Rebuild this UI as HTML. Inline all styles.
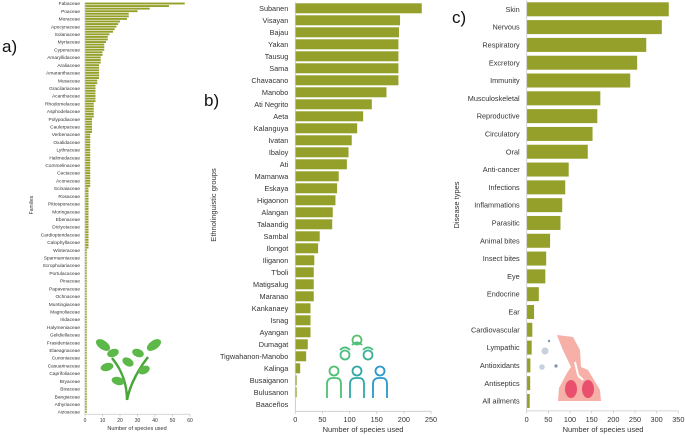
<!DOCTYPE html>
<html><head><meta charset="utf-8"><style>
html,body{margin:0;padding:0;background:#fff;}
svg{display:block;font-family:"Liberation Sans",sans-serif;}
</style></head><body>
<svg id="chart" width="685" height="435" viewBox="0 0 685 435" xmlns="http://www.w3.org/2000/svg">
  <text x="2" y="52" font-size="17" fill="#111">a)</text>
  <text x="204" y="106" font-size="17" fill="#111">b)</text>
  <text x="452" y="23" font-size="17" fill="#111">c)</text>
  <text transform="translate(33,205) rotate(-90)" text-anchor="middle" font-size="5" fill="#333">Families</text>
  <text x="137" y="430" text-anchor="middle" font-size="5.5" fill="#333">Number of species used</text>
  <text transform="translate(216,205) rotate(-90)" text-anchor="middle" font-size="7.5" fill="#333">Ethnolinguistic groups</text>
  <text x="363" y="432" text-anchor="middle" font-size="7.5" fill="#333">Number of species used</text>
  <text transform="translate(459,205) rotate(-90)" text-anchor="middle" font-size="7.5" fill="#333">Disease types</text>
  <text x="603" y="432" text-anchor="middle" font-size="7.5" fill="#333">Number of species used</text>
  <g id="ga"></g><g id="gb"></g><g id="gc"></g>

  <g fill="#5cb848" stroke="none">
    <path d="M127,400 C127,385 122,370 112,358 M127,400 C130,385 138,370 148,357" stroke="#4aa63a" stroke-width="2.5" fill="none"/>
    <ellipse cx="103" cy="345" rx="8" ry="4.5" transform="rotate(35 103 345)"/>
    <ellipse cx="154" cy="345" rx="8" ry="4.5" transform="rotate(-35 154 345)"/>
    <ellipse cx="113" cy="353" rx="6" ry="4" transform="rotate(-20 113 353)"/>
    <ellipse cx="138" cy="353" rx="6" ry="4" transform="rotate(20 138 353)"/>
    <ellipse cx="107" cy="367" rx="6.5" ry="4" transform="rotate(-15 107 367)"/>
    <ellipse cx="128" cy="362" rx="6" ry="4" transform="rotate(30 128 362)"/>
    <ellipse cx="144" cy="370" rx="6" ry="4" transform="rotate(-25 144 370)"/>
    <ellipse cx="118" cy="381" rx="6.5" ry="4" transform="rotate(15 118 381)"/>
  </g>

  <g fill="none" stroke-width="1.8">
    <circle cx="357" cy="340" r="4.5" stroke="#5cc070"/>
    <circle cx="345" cy="355" r="4.5" stroke="#4cbf80"/>
    <circle cx="368" cy="355" r="4.5" stroke="#3ab09a"/>
    <circle cx="334" cy="371" r="4.5" stroke="#4cc070"/>
    <circle cx="357" cy="371" r="4.5" stroke="#30a8a8"/>
    <circle cx="380" cy="371" r="4.5" stroke="#2a98c8"/>
    <path d="M327,398 V384 Q327,378 333,378 H336 Q341,378 341,384 V398" stroke="#4cc070"/>
    <path d="M350,398 V384 Q350,378 356,378 H359 Q364,378 364,384 V398" stroke="#30a8a8"/>
    <path d="M373,398 V384 Q373,378 379,378 H382 Q387,378 387,384 V398" stroke="#2a98c8"/>
    <path d="M340,350 Q345,345 350,350 M363,350 Q368,345 373,350 M352,345 Q357,340 362,345" stroke="#4cbf80"/>
  </g>

  <g>
    <path d="M557,335 L573,337 L580,350 L581,367 L588,370 L600,390 L601,401 L558,401 L559,388 L567,373 L571,367 L562,348 Z" fill="#f6b0a8"/>
    <path d="M575,362 L578,375 L580,378 M578,375 L583,380" stroke="#fff" stroke-width="2" fill="none"/>
    <ellipse cx="571" cy="389" rx="6" ry="9" fill="#e8506e"/>
    <ellipse cx="588" cy="389" rx="6" ry="9" fill="#e8506e"/>
    <circle cx="545" cy="351" r="3.5" fill="#c8d0dc"/>
    <circle cx="542" cy="367" r="2.8" fill="#c8d0dc"/>
    <circle cx="556" cy="366" r="1.6" fill="#8090b0"/>
    <circle cx="549" cy="341" r="1.2" fill="#8090b0"/>
  </g>
</svg>
<script>
var NS='http://www.w3.org/2000/svg';
// Panel a data
var famLabels=['Fabaceae','Poaceae','Moraceae','Apocynaceae','Solanaceae','Myrtaceae','Cyperaceae','Amaryllidaceae','Araliaceae','Amaranthaceae','Musaceae','Gracilariaceae','Acanthaceae','Rhodomelaceae','Asphodelaceae','Polypodiaceae','Caulerpaceae','Verbenaceae','Oxalidaceae','Lythraceae','Halimedaceae','Commelinaceae','Cactaceae','Aconaceae','Scinaiaceae','Rosaceae','Pittosporaceae','Moringaceae','Ebenaceae','Dictyotaceae','Cardiopteridaceae','Calophyllaceae','Winteraceae','Sparmanniaceae','Scrophulariaceae','Portulacaceae','Pinaceae','Papaveraceae','Ochnaceae','Muntingiaceae','Magnoliaceae','Iridaceae','Halymeniaceae','Gelidiellaceae','Frasidentaceae','Elaeagnaceae','Cunoniaceae','Casuarinaceae','Caprifoliaceae','Bryaceae','Bixaceae','Bangiaceae','Athyriaceae','Aizoaceae'];
var famValues=[57,48,37,30,25,25,24,20,19,18,17,16,14,13,13,12,11,11,11,10,10,9,
9,9,8,8,8,8,8,8,7,7,6,6,6,6,6,6,6,5,5,5,5,5,5,4,4,4,4,4,4,
3,3,3,3,3,3,3,3,3,3,3,3,3,3,3,3,3,3,3,3,3,
2,2,2,2,2,2,2,2,2,2,2,2,2,2,2,2,2,2,2,2,2,2,2,2,
1,1,1,1,1,1,1,1,1,1,1,1,1,1,1,1,1,1,1,1,1,1,1,1,1,1,1,1,1,1,1,1,1,1,1,1,1,1,1,1,1,1,1,1,1,1,1,1,1,1,1,1,1,1,1,1,1,1,1,1,1,1,1,1];
var famTicks=[0,10,20,30,40,50,60];
// Panel b data
var grpLabels=['Subanen','Visayan','Bajau','Yakan','Tausug','Sama','Chavacano','Manobo','Ati Negrito','Aeta','Kalanguya','Ivatan','Ibaloy','Ati','Mamanwa','Eskaya','Higaonon','Alangan','Talaandig','Sambal','Ilongot','Iliganon',"T'boli",'Matigsalug','Maranao','Kankanaey','Isnag','Ayangan','Dumagat','Tigwahanon-Manobo','Kalinga','Busaiganon','Bulusanon','Baaceños'];
var grpValues=[233,193,191,190,190,190,190,168,141,125,114,104,98,95,80,77,74,69,68,45,42,35,34,34,34,28,28,28,23,20,9,2.5,2.5,0.6];
var grpTicks=[0,50,100,150,200,250];
// Panel c data
var disLabels=['Skin','Nervous','Respiratory','Excretory','Immunity','Musculoskeletal','Reproductive','Circulatory','Oral','Anti-cancer','Infections','Inflammations','Parasitic','Animal bites','Insect bites','Eye','Endocrine','Ear','Cardiovascular','Lympathic','Antioxidants','Antiseptics','All ailments'];
var disValues=[328,312,276,255,239,170,163,152,141,97,89,82,78,54,45,43,28,17,13,11.5,8.5,8,7];
var disTicks=[0,50,100,150,200,250,300,350];

function mk(tag,attrs,parent){var e=document.createElementNS(NS,tag);for(var k in attrs)e.setAttribute(k,attrs[k]);parent.appendChild(e);return e;}

function panel(g,cfg){
  var xs=function(v){return cfg.x0+v*(cfg.x1-cfg.x0)/cfg.max;};
  var n=cfg.values.length;
  var pitch=(cfg.yLast-cfg.yFirst)/(n-1);
  var ys=function(i){return cfg.yFirst+i*pitch;};
  for(var i=0;i<n;i++){
    var r=mk('rect',{x:xs(0),y:ys(i)-cfg.bh/2,width:Math.max(0,xs(cfg.values[i])-xs(0)),height:cfg.bh,fill:'#94a02a'},g);
    
    
  }
  for(var j=0;j<cfg.labels.length;j++){
    var t=mk('text',{x:cfg.x0-cfg.lpad,y:ys(j*cfg.every)+cfg.fs*0.35,'text-anchor':'end','font-size':cfg.fs,fill:'#333'},g);
    t.textContent=cfg.labels[j];
    
    
  }
  var bottom=ys(n-1)+pitch/2+1;
  var ax=mk('line',{x1:xs(0),y1:cfg.yFirst-pitch/2,x2:xs(0),y2:bottom,stroke:'#c8c8c8','stroke-width':0.8},g);
  
  
  var bx=mk('line',{x1:xs(0),y1:bottom,x2:xs(cfg.max),y2:bottom,stroke:'#c8c8c8','stroke-width':0.8},g);
  
  
  for(var k=0;k<cfg.ticks.length;k++){
    var tx=xs(cfg.ticks[k]);
    var tm=mk('line',{x1:tx,y1:bottom,x2:tx,y2:bottom+2.5,stroke:'#c8c8c8','stroke-width':0.8},g);
    
    
    var tl=mk('text',{x:tx,y:cfg.tickY,'text-anchor':'middle','font-size':cfg.tfs,fill:'#333'},g);
    tl.textContent=cfg.ticks[k];
    
    
  }
}
panel(document.getElementById('ga'),{name:'families',values:famValues,labels:famLabels,every:3,ticks:famTicks,max:60,x0:85,x1:190,yFirst:3.5,yLast:412,bh:1.9,fs:4.8,lpad:5,tickY:422,tfs:5});
panel(document.getElementById('gb'),{name:'groups',values:grpValues,labels:grpLabels,every:1,ticks:grpTicks,max:250,x0:295.3,x1:431,yFirst:8.3,yLast:404.3,bh:10,fs:7.3,lpad:7,tickY:422,tfs:7.3});
panel(document.getElementById('gc'),{name:'disease',values:disValues,labels:disLabels,every:1,ticks:disTicks,max:350,x0:526.7,x1:678.3,yFirst:9.3,yLast:401,bh:14,fs:7.3,lpad:7,tickY:422,tfs:7.3});
</script>
</body></html>
